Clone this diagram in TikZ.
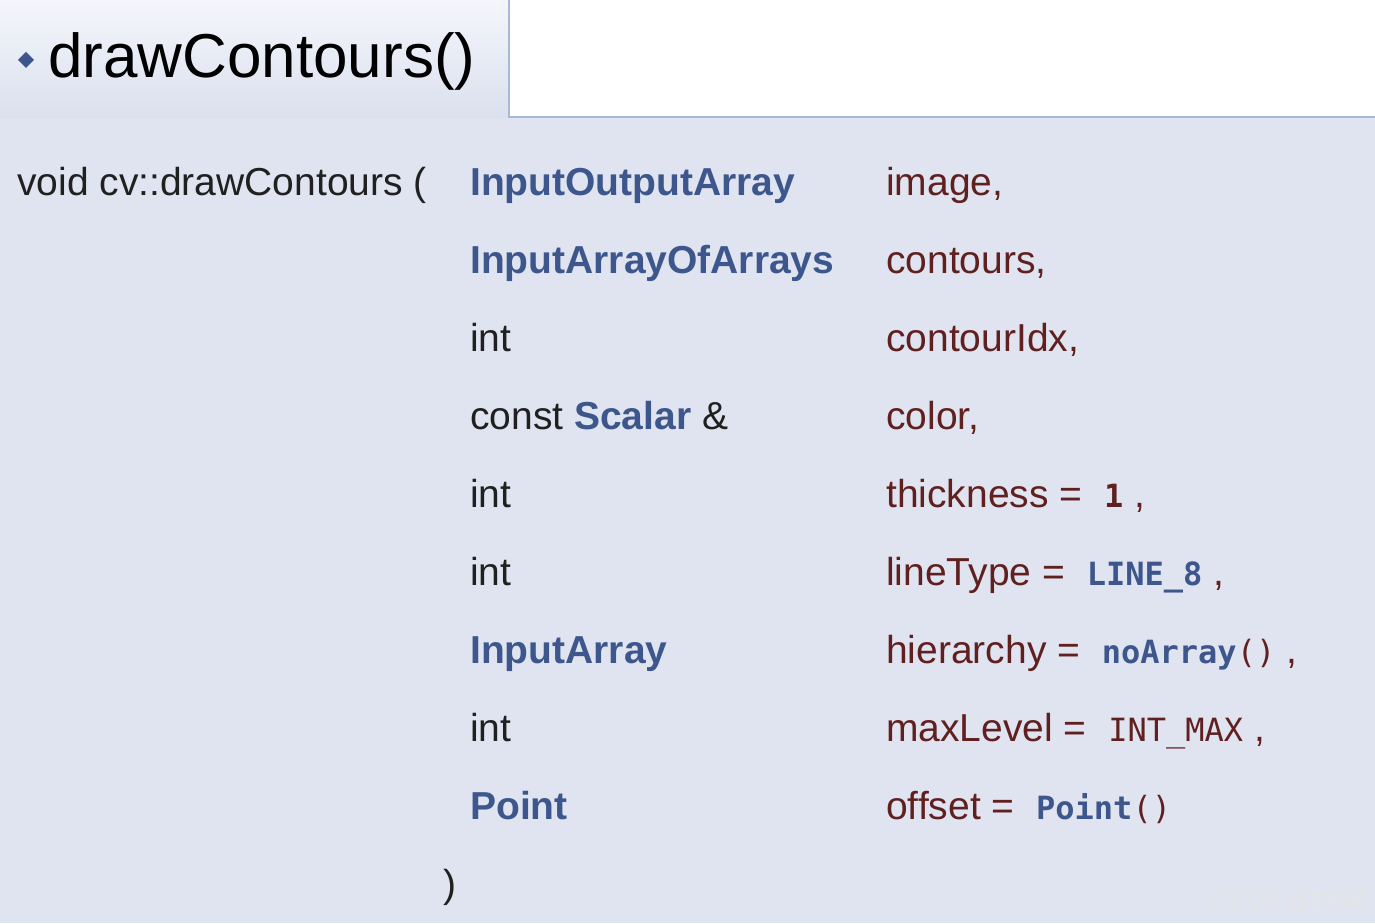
\documentclass[tikz,border=0pt]{standalone}
\usepackage{fontspec}
\setmainfont{Liberation Sans}
\setmonofont{DejaVu Sans Mono}
\definecolor{bg}{RGB}{223,228,240}
\definecolor{hdtop}{RGB}{244,246,251}
\definecolor{hdbot}{RGB}{218,224,238}
\definecolor{bord}{RGB}{168,184,217}
\definecolor{tyc}{RGB}{61,87,140}
\definecolor{nmc}{RGB}{96,32,32}
\definecolor{txc}{RGB}{32,32,32}
\begin{document}
\begin{tikzpicture}[x=1pt,y=-1pt,
  txt/.style={anchor=base west,inner sep=0pt,text=txc,font=\fontsize{39}{46}\selectfont},
  nm/.style={txt,text=nmc}]
\useasboundingbox (0,0) rectangle (1375,923);
\fill[bg] (0,0) rectangle (1375,923);
\shade[top color=hdtop,bottom color=hdbot] (0,0) rectangle (508,118);
\fill[white] (510,0) rectangle (1375,116);
\draw[bord,line width=2.5pt] (509,0) -- (509,117) -- (1375,117);
\fill[tyc] (26,52) -- (34,60) -- (26,68) -- (18,60) -- cycle;
\node[anchor=base west,inner sep=0pt,font=\fontsize{62}{70}\selectfont] (title) at (48,78) {drawContours()};
\newcommand\ty[1]{\textcolor{tyc}{\bfseries #1}}
\newcommand\mb[1]{{\fontsize{32}{38}\selectfont\ttfamily\bfseries\textcolor{tyc}{#1}}}
\newcommand\mr[1]{{\fontsize{32}{38}\selectfont\ttfamily #1}}
\node[txt] (void) at (17,195) {void cv::drawContours (};
\node[txt] (t1) at (470,195) {\ty{InputOutputArray}};
\node[txt] (t2) at (470,273) {\ty{InputArrayOfArrays}};
\node[txt] (t3) at (470,351) {int};
\node[txt] (t4) at (470,429) {const \ty{Scalar} \&};
\node[txt] (t5) at (470,507) {int};
\node[txt] (t6) at (470,585) {int};
\node[txt] (t7) at (470,663) {\ty{InputArray}};
\node[txt] (t8) at (470,741) {int};
\node[txt] (t9) at (470,819) {\ty{Point}};
\node[nm] (n1) at (886,195) {image,};
\node[nm] (n2) at (886,273) {contours,};
\node[nm] (n3) at (886,351) {contourIdx,};
\node[nm] (n4) at (886,429) {color,};
\node[nm] (n5) at (886,507) {thickness =~ \mr{\textbf{1}} ,};
\node[nm] (n6) at (886,585) {lineType =~ \mb{LINE\_8} ,};
\node[nm] (n7) at (886,663) {hierarchy =~ \mb{noArray}\mr{()} ,};
\node[nm] (n8) at (886,741) {maxLevel =~ \mr{INT\_MAX} ,};
\node[nm] (n9) at (886,819) {offset =~ \mb{Point}\mr{()}};
\node[txt] (close) at (443,897) {)};
\node[anchor=base east,inner sep=0pt,text=white!80!gray,font=\fontsize{24}{28}\selectfont] (wm) at (1370,908) {CSDN @Bill66};
\end{tikzpicture}
\end{document}
